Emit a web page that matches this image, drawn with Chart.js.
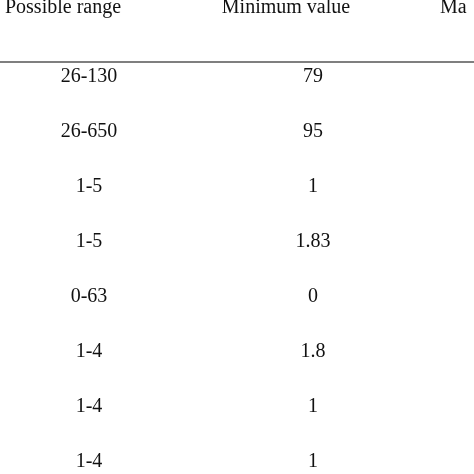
<!DOCTYPE html>
<html><head><meta charset="utf-8">
<script src="https://cdn.jsdelivr.net/npm/chart.js@4"></script>
<style>html,body{margin:0;padding:0;background:#fff}#w{width:474px;height:474px}</style>
</head><body><div id="w"><canvas id="c"></canvas></div>
<script>
const headers = ["Possible range", "Minimum value", "Ma"];
const possibleRange = ["26-130","26-650","1-5","1-5","0-63","1-4","1-4","1-4"];
const minimumValue = ["79","95","1","1.83","0","1.8","1","1"];

const colX = [89, 313];
const headerX = [63, 286, 440];
const headerAlign = ['center','center','left'];
const headerRow = -1.255, ruleRow = -0.273;

const pts = [];
possibleRange.forEach((t,i)=>pts.push({x:colX[0],y:i,t}));
minimumValue.forEach((t,i)=>pts.push({x:colX[1],y:i,t}));

const textPlugin = {
  id:'tbl',
  afterDatasetsDraw(chart){
    const {ctx, scales:{x,y}} = chart;
    ctx.save();
    ctx.fillStyle = '#111';
    ctx.font = '20px "Liberation Serif", "Times New Roman", serif';
    ctx.textBaseline = 'middle';
    headers.forEach((h,i)=>{
      ctx.textAlign = headerAlign[i];
      ctx.fillText(h, x.getPixelForValue(headerX[i]), y.getPixelForValue(headerRow));
    });
    ctx.textAlign = 'center';
    chart.data.datasets[0].data.forEach(p=>{
      ctx.fillText(p.t, x.getPixelForValue(p.x), y.getPixelForValue(p.y));
    });
    ctx.strokeStyle = '#555';
    ctx.lineWidth = 1.5;
    const ly = y.getPixelForValue(ruleRow);
    ctx.beginPath(); ctx.moveTo(x.left, ly); ctx.lineTo(x.right, ly); ctx.stroke();
    ctx.restore();
  }
};

new Chart(document.getElementById('c'), {
  type:'scatter',
  data:{datasets:[{data:pts, pointRadius:0, pointHoverRadius:0}]},
  options:{
    responsive:true, maintainAspectRatio:false, animation:false,
    layout:{padding:0},
    plugins:{legend:{display:false}, tooltip:{enabled:false}},
    scales:{
      x:{type:'linear', min:0, max:474, display:false},
      y:{type:'linear', min:-1.4, max:7.218, reverse:true, display:false}
    }
  },
  plugins:[textPlugin]
});
</script></body></html>
